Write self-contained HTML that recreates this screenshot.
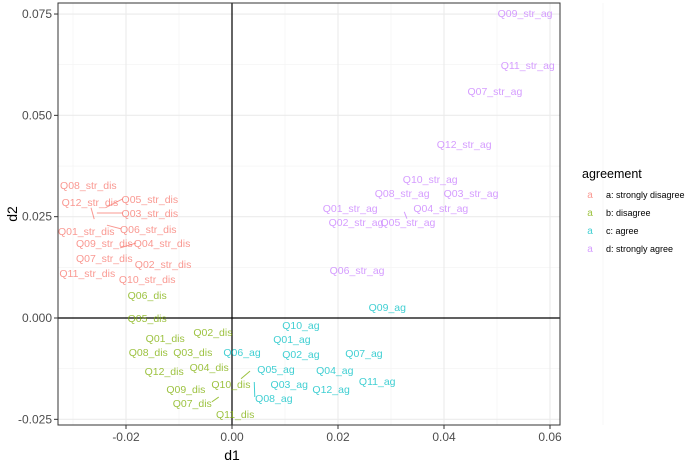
<!DOCTYPE html>
<html><head><meta charset="utf-8"><style>
body{margin:0;background:#fff;font-family:"Liberation Sans",sans-serif}
svg text{font-family:"Liberation Sans",sans-serif}
</style></head><body>
<svg id="c" width="685" height="466"></svg>
<script>
const lblRed=["Q08_str_dis","Q12_str_dis","Q05_str_dis","Q03_str_dis","Q01_str_dis","Q06_str_dis","Q09_str_dis","Q04_str_dis","Q07_str_dis","Q02_str_dis","Q11_str_dis","Q10_str_dis"];
const xRed=[-0.0271,-0.0268,-0.0155,-0.0155,-0.0275,-0.0158,-0.0241,-0.0132,-0.0241,-0.013,-0.0273,-0.0160];
const yRed=[0.0328,0.0286,0.0294,0.0259,0.0215,0.0220,0.0185,0.0185,0.0148,0.0133,0.0111,0.0096];
const lblGreen=["Q06_dis","Q05_dis","Q01_dis","Q02_dis","Q08_dis","Q03_dis","Q12_dis","Q04_dis","Q09_dis","Q10_dis","Q07_dis","Q11_dis"];
const xGreen=[-0.016,-0.016,-0.0126,-0.0036,-0.0158,-0.0074,-0.0128,-0.0043,-0.0087,-0.0002,-0.0075,0.0006];
const yGreen=[0.0057,0,-0.0049,-0.0035,-0.0084,-0.0084,-0.0131,-0.0121,-0.0175,-0.0163,-0.0210,-0.0237];
const lblCyan=["Q10_ag","Q01_ag","Q02_ag","Q06_ag","Q05_ag","Q04_ag","Q07_ag","Q03_ag","Q12_ag","Q11_ag","Q08_ag","Q09_ag"];
const xCyan=[0.0130,0.0113,0.0130,0.0019,0.0083,0.0194,0.0249,0.0108,0.0187,0.0274,0.0079,0.0293];
const yCyan=[-0.0017,-0.0052,-0.0089,-0.0084,-0.0126,-0.0128,-0.0086,-0.0163,-0.0175,-0.0155,-0.0197,0.0027];
const lblPurple=["Q09_str_ag","Q11_str_ag","Q07_str_ag","Q12_str_ag","Q10_str_ag","Q08_str_ag","Q03_str_ag","Q01_str_ag","Q04_str_ag","Q02_str_ag","Q05_str_ag","Q06_str_ag"];
const xPurple=[0.0553,0.0558,0.0496,0.0438,0.0374,0.0321,0.0451,0.0223,0.0394,0.0234,0.0332,0.0236];
const yPurple=[0.0753,0.0624,0.0560,0.0429,0.0343,0.0308,0.0308,0.0271,0.0271,0.0237,0.0237,0.0118];
const xTicks=[-0.02,0,0.02,0.04,0.06], xTickLbl=["-0.02","0.00","0.02","0.04","0.06"];
const yTicks=[-0.025,0,0.025,0.05,0.075], yTickLbl=["-0.025","0.000","0.025","0.050","0.075"];
const segs=[[-0.0239,0.0272,-0.0206,0.0294],[-0.0266,0.0272,-0.0260,0.0244],[-0.0255,0.0259,-0.0206,0.0259],[-0.0236,0.0229,-0.0209,0.0220],[-0.0211,0.0173,-0.0181,0.0185],[0.0017,-0.0150,0.0034,-0.0131],[-0.0038,-0.0207,-0.0025,-0.0195],[0.0042,-0.0158,0.0043,-0.0195],[0.0325,0.0262,0.0330,0.0245]];
const segCol=["#F8766D","#F8766D","#F8766D","#F8766D","#F8766D","#7CAE00","#7CAE00","#00BFC4","#C77CFF"];
const L=58,R=560,T=3,B=425;
const X=v=>232+v*5300, Y=v=>318-v*4053;
const s=document.getElementById('c'),NS="http://www.w3.org/2000/svg";
function mk(t,a,p){const e=document.createElementNS(NS,t);for(const k in a)e.setAttribute(k,a[k]);(p||s).appendChild(e);return e;}
let bg=mk('rect',{x:L,y:T,width:R-L,height:B-T,fill:'#fff'});


for(let i=0;i<xTicks.length;i++){const m=xTicks[i]-0.01;mk('line',{x1:X(m),x2:X(m),y1:T,y2:B,stroke:'#f2f2f2','stroke-width':0.6});}
mk('line',{x1:X(0.07),x2:X(0.07),y1:T,y2:B,stroke:'#f2f2f2','stroke-width':0.6});
for(let i=0;i<yTicks.length;i++){const m=yTicks[i]+0.0125;if(Y(m)>T)mk('line',{x1:L,x2:R,y1:Y(m),y2:Y(m),stroke:'#f2f2f2','stroke-width':0.6});}
mk('line',{x1:L,x2:R,y1:Y(-0.0375),y2:Y(-0.0375),stroke:'#f2f2f2','stroke-width':0.6});
xTicks.forEach((v,i)=>{
 let g=mk('line',{x1:X(v),x2:X(v),y1:T,y2:B,stroke:'#ebebeb','stroke-width':1.1});
 
 mk('line',{x1:X(v),x2:X(v),y1:B,y2:B+4,stroke:'#333'});
 let t=mk('text',{x:X(v),y:B+16,'text-anchor':'middle','font-size':12,fill:'#4d4d4d'});t.textContent=xTickLbl[i];
 
});
yTicks.forEach((v,i)=>{
 let g=mk('line',{x1:L,x2:R,y1:Y(v),y2:Y(v),stroke:'#ebebeb','stroke-width':1.1});
 
 mk('line',{x1:L-4,x2:L,y1:Y(v),y2:Y(v),stroke:'#333'});
 let t=mk('text',{x:L-6,y:Y(v)+4,'text-anchor':'end','font-size':12,fill:'#4d4d4d'});t.textContent=yTickLbl[i];
 
});
let h=mk('line',{x1:L,x2:R,y1:Y(0),y2:Y(0),stroke:'#000','stroke-width':1.2});

let vl=mk('line',{x1:X(0),x2:X(0),y1:T,y2:B,stroke:'#000','stroke-width':1.2});

segs.forEach((q,i)=>{let l=mk('line',{x1:X(q[0]),y1:Y(q[1]),x2:X(q[2]),y2:Y(q[3]),stroke:segCol[i],'stroke-width':1,opacity:0.75});
 });
const groups=[[lblRed,xRed,yRed,"#F8766D"],[lblGreen,xGreen,yGreen,"#7CAE00"],[lblCyan,xCyan,yCyan,"#00BFC4"],[lblPurple,xPurple,yPurple,"#C77CFF"]];
groups.forEach(g=>{g[0].forEach((n,i)=>{
 let t=mk('text',{x:X(g[1][i]),y:Y(g[2][i])+4,'text-anchor':'middle','font-size':10.5,fill:g[3],opacity:0.75});t.textContent=n;
 
});});
let br=mk('rect',{x:L,y:T,width:R-L,height:B-T,fill:'none',stroke:'#333','stroke-width':1});

let xt=mk('text',{x:X(0),y:460,'text-anchor':'middle','font-size':14,fill:'#000'});xt.textContent='d1';

let yt=mk('text',{x:17,y:214,'text-anchor':'middle','font-size':14,fill:'#000',transform:'rotate(-90 17 214)'});yt.textContent='d2';

let lt=mk('text',{x:582,y:178,'font-size':12.5,fill:'#000'});lt.textContent='agreement';

const legTxt=["a: strongly disagree","b: disagree","c: agree","d: strongly agree"];
legTxt.forEach((tx,i)=>{const y=198+i*18,c=groups[i][3];
 let a=mk('text',{x:590,y:y,'text-anchor':'middle','font-size':10,fill:c,opacity:0.75});a.textContent='a';
 
 let t=mk('text',{x:606,y:y,'font-size':9,fill:'#000'});t.textContent=tx;
 
});
</script>
</body></html>
